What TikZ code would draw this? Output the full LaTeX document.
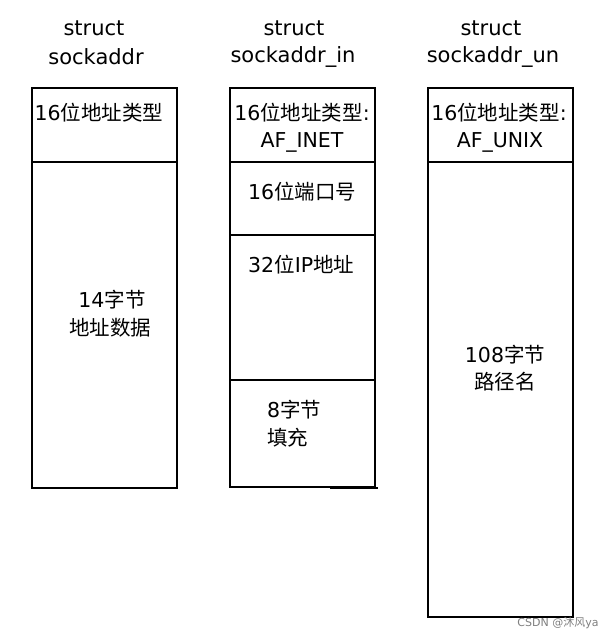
\documentclass[tikz,border=0pt]{standalone}
\usepackage{fontspec}
\setmainfont{DejaVu Sans}
\newfontfamily\cjk{Noto Sans CJK SC}
\begin{document}
\begin{tikzpicture}[x=1pt,y=-1pt,
  box/.style={draw,line width=1.8pt},
  txt/.style={font=\fontsize{20.5}{22}\selectfont,inner sep=0pt,anchor=center},
  ttl/.style={font=\fontsize{21}{23}\selectfont,inner sep=0pt}]
\useasboundingbox[fill=white] (0,0) rectangle (614,640);
% boxes
\draw[box] (32,88) rectangle (177,488);
\draw[box] (32,162) -- (177,162);
\draw[box] (230,88) rectangle (375,487);
\draw[box] (230,162) -- (375,162);
\draw[box] (230,235) -- (375,235);
\draw[box] (230,380) -- (375,380);
\draw[line width=2.5pt] (330,488) -- (378,488);
\draw[box] (428,88) rectangle (573,617);
\draw[box] (428,162) -- (573,162);
% titles
\node[ttl] (t1a) at (94,28) {struct};
\node[ttl] (t1b) at (96,57) {sockaddr};
\node[ttl] (t2a) at (294,28) {struct};
\node[ttl] (t2b) at (293,57) {sockaddr\_in};
\node[ttl] (t3a) at (491,28) {struct};
\node[ttl] (t3b) at (493,57) {sockaddr\_un};
% box 1
\node[txt] (a1) at (99,113) {16{\cjk 位地址类型}};
\node[txt] (a2) at (112,300) {14{\cjk 字节}};
\node[txt] (a3) at (110,328) {\cjk 地址数据};
% box 2
\node[txt] (b1) at (302,113) {16{\cjk 位地址类型}:};
\node[txt] (b2) at (302,142) {AF\_INET};
\node[txt,anchor=west] (b3) at (248,192) {16{\cjk 位端口号}};
\node[txt,anchor=west] (b4) at (248,265) {32{\cjk 位}IP{\cjk 地址}};
\node[txt,anchor=west] (b5) at (267,410) {8{\cjk 字节}};
\node[txt,anchor=west] (b6) at (267,438) {\cjk 填充};
% box 3
\node[txt] (c1) at (499,113) {16{\cjk 位地址类型}:};
\node[txt] (c2) at (500,142) {AF\_UNIX};
\node[txt] (c3) at (505,355) {108{\cjk 字节}};
\node[txt] (c4) at (505,382) {\cjk 路径名};
% watermark
\node[inner sep=0pt,text=gray,font=\fontsize{11}{12}\selectfont] (wm) at (558,623) {CSDN @{\cjk 沐风}ya};
\end{tikzpicture}
\end{document}
